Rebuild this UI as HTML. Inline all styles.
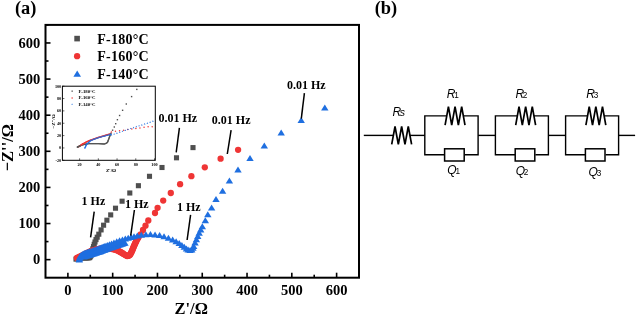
<!DOCTYPE html>
<html><head><meta charset="utf-8"><title>Figure</title>
<style>html,body{margin:0;padding:0;background:#fff;width:637px;height:315px;overflow:hidden}svg{display:block}</style>
</head><body>
<svg width="637" height="315" viewBox="0 0 637 315">
<style>
text{font-family:"Liberation Serif","Times New Roman",serif;font-weight:bold;fill:#000}
.tk{font-size:14.5px}
.axl{font-size:16.5px}
.pl{font-size:18.4px}
.lg{font-size:14px;letter-spacing:0.25px}
.hz{font-size:12px}
.al{stroke:#000;stroke-width:1.5}
.itk{font-size:4.2px}
.itl{font-size:5px}
.ilg{font-size:4.8px}
.cl{font-family:"Liberation Sans",Arial,sans-serif;font-weight:normal;font-style:italic;font-size:12px}
.cs{font-style:normal;font-size:8.2px}
.cs2{font-size:10.5px}
.w{fill:none;stroke:#000;stroke-width:1.4}
.zz{fill:none;stroke:#000;stroke-width:1.7;stroke-linejoin:miter}
.qb{fill:#fff;stroke:#000;stroke-width:1.5}
</style>
<rect width="637" height="315" fill="#fff"/>
<rect x="73.45" y="256.55" width="5.1" height="5.1" fill="#4f4f4f"/><rect x="74.37" y="256.15" width="5.1" height="5.1" fill="#4f4f4f"/><rect x="75.29" y="255.75" width="5.1" height="5.1" fill="#4f4f4f"/><rect x="76.20" y="255.36" width="5.1" height="5.1" fill="#4f4f4f"/><rect x="77.18" y="255.25" width="5.1" height="5.1" fill="#4f4f4f"/><rect x="78.18" y="255.25" width="5.1" height="5.1" fill="#4f4f4f"/><rect x="79.18" y="255.25" width="5.1" height="5.1" fill="#4f4f4f"/><rect x="80.18" y="255.25" width="5.1" height="5.1" fill="#4f4f4f"/><rect x="81.18" y="255.25" width="5.1" height="5.1" fill="#4f4f4f"/><rect x="82.18" y="255.25" width="5.1" height="5.1" fill="#4f4f4f"/><rect x="83.18" y="255.25" width="5.1" height="5.1" fill="#4f4f4f"/><rect x="84.18" y="255.25" width="5.1" height="5.1" fill="#4f4f4f"/><rect x="85.18" y="255.25" width="5.1" height="5.1" fill="#4f4f4f"/><rect x="86.18" y="255.25" width="5.1" height="5.1" fill="#4f4f4f"/><rect x="87.08" y="255.06" width="5.1" height="5.1" fill="#4f4f4f"/><rect x="87.62" y="254.22" width="5.1" height="5.1" fill="#4f4f4f"/><rect x="88.17" y="253.38" width="5.1" height="5.1" fill="#4f4f4f"/><rect x="88.57" y="252.48" width="5.1" height="5.1" fill="#4f4f4f"/><rect x="88.83" y="251.52" width="5.1" height="5.1" fill="#4f4f4f"/><rect x="89.09" y="250.55" width="5.1" height="5.1" fill="#4f4f4f"/><rect x="89.35" y="249.58" width="5.1" height="5.1" fill="#4f4f4f"/><rect x="89.61" y="248.62" width="5.1" height="5.1" fill="#4f4f4f"/><rect x="90.25" y="246.25" width="5.1" height="5.1" fill="#4f4f4f"/><rect x="90.95" y="244.05" width="5.1" height="5.1" fill="#4f4f4f"/><rect x="91.65" y="241.75" width="5.1" height="5.1" fill="#4f4f4f"/><rect x="92.45" y="239.45" width="5.1" height="5.1" fill="#4f4f4f"/><rect x="93.45" y="237.05" width="5.1" height="5.1" fill="#4f4f4f"/><rect x="94.65" y="234.65" width="5.1" height="5.1" fill="#4f4f4f"/><rect x="96.25" y="231.65" width="5.1" height="5.1" fill="#4f4f4f"/><rect x="98.55" y="227.35" width="5.1" height="5.1" fill="#4f4f4f"/><rect x="101.05" y="222.65" width="5.1" height="5.1" fill="#4f4f4f"/><rect x="104.35" y="217.65" width="5.1" height="5.1" fill="#4f4f4f"/><rect x="108.15" y="212.35" width="5.1" height="5.1" fill="#4f4f4f"/><rect x="112.95" y="205.65" width="5.1" height="5.1" fill="#4f4f4f"/><rect x="119.55" y="198.65" width="5.1" height="5.1" fill="#4f4f4f"/><rect x="127.25" y="190.45" width="5.1" height="5.1" fill="#4f4f4f"/><rect x="135.85" y="183.15" width="5.1" height="5.1" fill="#4f4f4f"/><rect x="146.95" y="173.75" width="5.1" height="5.1" fill="#4f4f4f"/><rect x="159.45" y="164.95" width="5.1" height="5.1" fill="#4f4f4f"/><rect x="173.95" y="155.25" width="5.1" height="5.1" fill="#4f4f4f"/><rect x="190.45" y="145.05" width="5.1" height="5.1" fill="#4f4f4f"/><circle cx="76.90" cy="258.00" r="3.15" fill="#ef3535"/><circle cx="77.81" cy="257.59" r="3.15" fill="#ef3535"/><circle cx="78.72" cy="257.18" r="3.15" fill="#ef3535"/><circle cx="79.63" cy="256.77" r="3.15" fill="#ef3535"/><circle cx="80.54" cy="256.33" r="3.15" fill="#ef3535"/><circle cx="81.43" cy="255.89" r="3.15" fill="#ef3535"/><circle cx="82.32" cy="255.44" r="3.15" fill="#ef3535"/><circle cx="83.22" cy="254.99" r="3.15" fill="#ef3535"/><circle cx="84.11" cy="254.54" r="3.15" fill="#ef3535"/><circle cx="85.01" cy="254.10" r="3.15" fill="#ef3535"/><circle cx="85.90" cy="253.65" r="3.15" fill="#ef3535"/><circle cx="86.80" cy="253.20" r="3.15" fill="#ef3535"/><circle cx="87.69" cy="252.75" r="3.15" fill="#ef3535"/><circle cx="88.60" cy="252.33" r="3.15" fill="#ef3535"/><circle cx="89.51" cy="251.92" r="3.15" fill="#ef3535"/><circle cx="90.42" cy="251.51" r="3.15" fill="#ef3535"/><circle cx="91.33" cy="251.10" r="3.15" fill="#ef3535"/><circle cx="92.25" cy="250.72" r="3.15" fill="#ef3535"/><circle cx="93.21" cy="250.41" r="3.15" fill="#ef3535"/><circle cx="94.16" cy="250.10" r="3.15" fill="#ef3535"/><circle cx="95.11" cy="249.79" r="3.15" fill="#ef3535"/><circle cx="96.06" cy="249.49" r="3.15" fill="#ef3535"/><circle cx="97.04" cy="249.29" r="3.15" fill="#ef3535"/><circle cx="98.02" cy="249.10" r="3.15" fill="#ef3535"/><circle cx="99.00" cy="248.90" r="3.15" fill="#ef3535"/><circle cx="99.98" cy="248.70" r="3.15" fill="#ef3535"/><circle cx="100.98" cy="248.62" r="3.15" fill="#ef3535"/><circle cx="101.98" cy="248.54" r="3.15" fill="#ef3535"/><circle cx="102.97" cy="248.46" r="3.15" fill="#ef3535"/><circle cx="103.97" cy="248.38" r="3.15" fill="#ef3535"/><circle cx="104.97" cy="248.30" r="3.15" fill="#ef3535"/><circle cx="105.97" cy="248.34" r="3.15" fill="#ef3535"/><circle cx="106.97" cy="248.38" r="3.15" fill="#ef3535"/><circle cx="107.96" cy="248.42" r="3.15" fill="#ef3535"/><circle cx="108.96" cy="248.46" r="3.15" fill="#ef3535"/><circle cx="109.96" cy="248.50" r="3.15" fill="#ef3535"/><circle cx="110.94" cy="248.70" r="3.15" fill="#ef3535"/><circle cx="111.92" cy="248.92" r="3.15" fill="#ef3535"/><circle cx="112.90" cy="249.13" r="3.15" fill="#ef3535"/><circle cx="113.87" cy="249.34" r="3.15" fill="#ef3535"/><circle cx="114.85" cy="249.55" r="3.15" fill="#ef3535"/><circle cx="115.83" cy="249.76" r="3.15" fill="#ef3535"/><circle cx="116.74" cy="250.17" r="3.15" fill="#ef3535"/><circle cx="117.63" cy="250.62" r="3.15" fill="#ef3535"/><circle cx="118.53" cy="251.06" r="3.15" fill="#ef3535"/><circle cx="119.42" cy="251.51" r="3.15" fill="#ef3535"/><circle cx="120.30" cy="251.98" r="3.15" fill="#ef3535"/><circle cx="121.16" cy="252.50" r="3.15" fill="#ef3535"/><circle cx="122.02" cy="253.01" r="3.15" fill="#ef3535"/><circle cx="122.87" cy="253.52" r="3.15" fill="#ef3535"/><circle cx="123.73" cy="254.04" r="3.15" fill="#ef3535"/><circle cx="124.60" cy="254.54" r="3.15" fill="#ef3535"/><circle cx="125.46" cy="255.04" r="3.15" fill="#ef3535"/><circle cx="126.33" cy="255.53" r="3.15" fill="#ef3535"/><circle cx="127.20" cy="256.03" r="3.15" fill="#ef3535"/><circle cx="128.09" cy="255.92" r="3.15" fill="#ef3535"/><circle cx="128.99" cy="255.48" r="3.15" fill="#ef3535"/><circle cx="129.89" cy="255.05" r="3.15" fill="#ef3535"/><circle cx="130.39" cy="254.21" r="3.15" fill="#ef3535"/><circle cx="130.84" cy="253.32" r="3.15" fill="#ef3535"/><circle cx="131.29" cy="252.42" r="3.15" fill="#ef3535"/><circle cx="131.74" cy="251.53" r="3.15" fill="#ef3535"/><circle cx="132.15" cy="250.62" r="3.15" fill="#ef3535"/><circle cx="132.52" cy="249.69" r="3.15" fill="#ef3535"/><circle cx="132.90" cy="248.76" r="3.15" fill="#ef3535"/><circle cx="133.27" cy="247.83" r="3.15" fill="#ef3535"/><circle cx="133.64" cy="246.91" r="3.15" fill="#ef3535"/><circle cx="134.01" cy="245.98" r="3.15" fill="#ef3535"/><circle cx="134.43" cy="245.07" r="3.15" fill="#ef3535"/><circle cx="134.85" cy="244.16" r="3.15" fill="#ef3535"/><circle cx="135.27" cy="243.25" r="3.15" fill="#ef3535"/><circle cx="135.69" cy="242.35" r="3.15" fill="#ef3535"/><circle cx="136.11" cy="241.44" r="3.15" fill="#ef3535"/><circle cx="136.52" cy="240.53" r="3.15" fill="#ef3535"/><circle cx="136.94" cy="239.62" r="3.15" fill="#ef3535"/><circle cx="137.48" cy="238.78" r="3.15" fill="#ef3535"/><circle cx="138.04" cy="237.95" r="3.15" fill="#ef3535"/><circle cx="138.59" cy="237.12" r="3.15" fill="#ef3535"/><circle cx="140.70" cy="234.30" r="3.15" fill="#ef3535"/><circle cx="143.00" cy="229.90" r="3.15" fill="#ef3535"/><circle cx="145.50" cy="225.70" r="3.15" fill="#ef3535"/><circle cx="148.30" cy="220.50" r="3.15" fill="#ef3535"/><circle cx="155.00" cy="213.00" r="3.15" fill="#ef3535"/><circle cx="157.60" cy="207.80" r="3.15" fill="#ef3535"/><circle cx="163.20" cy="200.60" r="3.15" fill="#ef3535"/><circle cx="170.80" cy="193.00" r="3.15" fill="#ef3535"/><circle cx="180.10" cy="184.20" r="3.15" fill="#ef3535"/><circle cx="191.40" cy="176.20" r="3.15" fill="#ef3535"/><circle cx="204.80" cy="167.30" r="3.15" fill="#ef3535"/><circle cx="220.60" cy="158.70" r="3.15" fill="#ef3535"/><circle cx="238.10" cy="149.80" r="3.15" fill="#ef3535"/><polygon points="84.00,253.40 87.70,259.40 80.30,259.40" fill="#1f6fe0"/><polygon points="85.15,253.06 88.85,259.06 81.45,259.06" fill="#1f6fe0"/><polygon points="86.30,252.71 90.00,258.71 82.60,258.71" fill="#1f6fe0"/><polygon points="87.45,252.37 91.15,258.37 83.75,258.37" fill="#1f6fe0"/><polygon points="88.60,252.02 92.30,258.02 84.90,258.02" fill="#1f6fe0"/><polygon points="89.75,251.68 93.45,257.68 86.05,257.68" fill="#1f6fe0"/><polygon points="90.89,251.31 94.59,257.31 87.19,257.31" fill="#1f6fe0"/><polygon points="92.03,250.95 95.73,256.95 88.33,256.95" fill="#1f6fe0"/><polygon points="93.18,250.58 96.88,256.58 89.48,256.58" fill="#1f6fe0"/><polygon points="94.32,250.22 98.02,256.22 90.62,256.22" fill="#1f6fe0"/><polygon points="95.46,249.85 99.16,255.85 91.76,255.85" fill="#1f6fe0"/><polygon points="96.61,249.49 100.31,255.49 92.91,255.49" fill="#1f6fe0"/><polygon points="97.75,249.12 101.45,255.12 94.05,255.12" fill="#1f6fe0"/><polygon points="98.89,248.75 102.59,254.75 95.19,254.75" fill="#1f6fe0"/><polygon points="100.03,248.39 103.73,254.39 96.33,254.39" fill="#1f6fe0"/><polygon points="101.16,247.96 104.86,253.96 97.46,253.96" fill="#1f6fe0"/><polygon points="102.28,247.53 105.98,253.53 98.58,253.53" fill="#1f6fe0"/><polygon points="103.40,247.11 107.10,253.11 99.70,253.11" fill="#1f6fe0"/><polygon points="104.52,246.68 108.22,252.68 100.82,252.68" fill="#1f6fe0"/><polygon points="105.64,246.26 109.34,252.26 101.94,252.26" fill="#1f6fe0"/><polygon points="106.76,245.83 110.46,251.83 103.06,251.83" fill="#1f6fe0"/><polygon points="107.89,245.40 111.59,251.40 104.19,251.40" fill="#1f6fe0"/><polygon points="109.01,244.98 112.71,250.98 105.31,250.98" fill="#1f6fe0"/><polygon points="110.13,244.56 113.83,250.56 106.43,250.56" fill="#1f6fe0"/><polygon points="111.27,244.19 114.97,250.19 107.57,250.19" fill="#1f6fe0"/><polygon points="112.42,243.82 116.12,249.82 108.72,249.82" fill="#1f6fe0"/><polygon points="113.56,243.45 117.26,249.45 109.86,249.45" fill="#1f6fe0"/><polygon points="114.70,243.09 118.40,249.09 111.00,249.09" fill="#1f6fe0"/><polygon points="115.84,242.72 119.54,248.72 112.14,248.72" fill="#1f6fe0"/><polygon points="116.98,242.35 120.68,248.35 113.28,248.35" fill="#1f6fe0"/><polygon points="118.13,241.98 121.83,247.98 114.43,247.98" fill="#1f6fe0"/><polygon points="119.27,241.61 122.97,247.61 115.57,247.61" fill="#1f6fe0"/><polygon points="120.40,241.22 124.10,247.22 116.70,247.22" fill="#1f6fe0"/><polygon points="121.54,240.83 125.24,246.83 117.84,246.83" fill="#1f6fe0"/><polygon points="122.67,240.44 126.37,246.44 118.97,246.44" fill="#1f6fe0"/><polygon points="123.81,240.05 127.51,246.05 120.11,246.05" fill="#1f6fe0"/><polygon points="124.94,239.66 128.64,245.66 121.24,245.66" fill="#1f6fe0"/><polygon points="79.30,256.60 83.00,262.60 75.60,262.60" fill="#1f6fe0"/><polygon points="79.45,255.61 83.15,261.61 75.75,261.61" fill="#1f6fe0"/><polygon points="79.60,254.62 83.30,260.62 75.90,260.62" fill="#1f6fe0"/><polygon points="80.04,253.73 83.74,259.73 76.34,259.73" fill="#1f6fe0"/><polygon points="80.48,252.83 84.18,258.83 76.78,258.83" fill="#1f6fe0"/><polygon points="81.18,252.14 84.88,258.14 77.48,258.14" fill="#1f6fe0"/><polygon points="81.97,251.52 85.67,257.52 78.27,257.52" fill="#1f6fe0"/><polygon points="82.79,250.96 86.49,256.96 79.09,256.96" fill="#1f6fe0"/><polygon points="83.69,250.53 87.39,256.53 79.99,256.53" fill="#1f6fe0"/><polygon points="84.59,250.10 88.29,256.10 80.89,256.10" fill="#1f6fe0"/><polygon points="85.52,249.73 89.22,255.73 81.82,255.73" fill="#1f6fe0"/><polygon points="86.47,249.43 90.17,255.43 82.77,255.43" fill="#1f6fe0"/><polygon points="87.43,249.12 91.13,255.12 83.73,255.12" fill="#1f6fe0"/><polygon points="88.38,248.82 92.08,254.82 84.68,254.82" fill="#1f6fe0"/><polygon points="89.33,248.51 93.03,254.51 85.63,254.51" fill="#1f6fe0"/><polygon points="90.29,248.21 93.99,254.21 86.59,254.21" fill="#1f6fe0"/><polygon points="91.24,247.93 94.94,253.93 87.54,253.93" fill="#1f6fe0"/><polygon points="92.20,247.64 95.90,253.64 88.50,253.64" fill="#1f6fe0"/><polygon points="93.16,247.35 96.86,253.35 89.46,253.35" fill="#1f6fe0"/><polygon points="94.12,247.06 97.82,253.06 90.42,253.06" fill="#1f6fe0"/><polygon points="95.07,246.77 98.77,252.77 91.37,252.77" fill="#1f6fe0"/><polygon points="96.01,246.43 99.71,252.43 92.31,252.43" fill="#1f6fe0"/><polygon points="96.95,246.10 100.65,252.10 93.25,252.10" fill="#1f6fe0"/><polygon points="97.90,245.76 101.60,251.76 94.20,251.76" fill="#1f6fe0"/><polygon points="98.84,245.42 102.54,251.42 95.14,251.42" fill="#1f6fe0"/><polygon points="99.78,245.08 103.48,251.08 96.08,251.08" fill="#1f6fe0"/><polygon points="100.70,244.70 104.40,250.70 97.00,250.70" fill="#1f6fe0"/><polygon points="101.63,244.32 105.33,250.32 97.93,250.32" fill="#1f6fe0"/><polygon points="102.55,243.93 106.25,249.93 98.85,249.93" fill="#1f6fe0"/><polygon points="103.55,243.51 107.25,249.51 99.85,249.51" fill="#1f6fe0"/><polygon points="104.72,243.02 108.42,249.02 101.02,249.02" fill="#1f6fe0"/><polygon points="106.08,242.51 109.78,248.51 102.38,248.51" fill="#1f6fe0"/><polygon points="107.66,241.94 111.36,247.94 103.96,247.94" fill="#1f6fe0"/><polygon points="109.48,241.29 113.18,247.29 105.78,247.29" fill="#1f6fe0"/><polygon points="111.57,240.44 115.27,246.44 107.87,246.44" fill="#1f6fe0"/><polygon points="113.96,239.44 117.66,245.44 110.26,245.44" fill="#1f6fe0"/><polygon points="116.75,238.37 120.45,244.37 113.05,244.37" fill="#1f6fe0"/><polygon points="119.58,237.35 123.28,243.35 115.88,243.35" fill="#1f6fe0"/><polygon points="122.44,236.47 126.14,242.47 118.74,242.47" fill="#1f6fe0"/><polygon points="125.32,235.62 129.02,241.62 121.62,241.62" fill="#1f6fe0"/><polygon points="128.22,234.86 131.92,240.86 124.52,240.86" fill="#1f6fe0"/><polygon points="131.12,234.11 134.82,240.11 127.42,240.11" fill="#1f6fe0"/><polygon points="134.03,233.35 137.73,239.35 130.33,239.35" fill="#1f6fe0"/><polygon points="137.32,232.50 141.02,238.50 133.62,238.50" fill="#1f6fe0"/><polygon points="141.30,231.70 145.00,237.70 137.60,237.70" fill="#1f6fe0"/><polygon points="145.88,231.33 149.58,237.33 142.18,237.33" fill="#1f6fe0"/><polygon points="150.47,231.05 154.17,237.05 146.77,237.05" fill="#1f6fe0"/><polygon points="155.04,231.55 158.74,237.55 151.34,237.55" fill="#1f6fe0"/><polygon points="159.61,232.06 163.31,238.06 155.91,238.06" fill="#1f6fe0"/><polygon points="164.03,233.31 167.73,239.31 160.33,239.31" fill="#1f6fe0"/><polygon points="168.44,234.63 172.14,240.63 164.74,240.63" fill="#1f6fe0"/><polygon points="172.65,236.43 176.35,242.43 168.95,242.43" fill="#1f6fe0"/><polygon points="176.13,238.28 179.83,244.28 172.43,244.28" fill="#1f6fe0"/><polygon points="179.20,240.12 182.90,246.12 175.50,246.12" fill="#1f6fe0"/><polygon points="181.88,242.01 185.58,248.01 178.18,248.01" fill="#1f6fe0"/><polygon points="184.28,243.83 187.98,249.83 180.58,249.83" fill="#1f6fe0"/><polygon points="186.45,245.56 190.15,251.56 182.75,251.56" fill="#1f6fe0"/><polygon points="188.15,246.58 191.85,252.58 184.45,252.58" fill="#1f6fe0"/><polygon points="190.05,247.05 193.75,253.05 186.35,253.05" fill="#1f6fe0"/><polygon points="191.77,246.38 195.47,252.38 188.07,252.38" fill="#1f6fe0"/><polygon points="192.93,244.81 196.63,250.81 189.23,250.81" fill="#1f6fe0"/><polygon points="193.69,242.96 197.39,248.96 189.99,248.96" fill="#1f6fe0"/><polygon points="195.05,239.62 198.75,245.62 191.35,245.62" fill="#1f6fe0"/><polygon points="196.41,236.29 200.11,242.29 192.71,242.29" fill="#1f6fe0"/><polygon points="197.77,232.96 201.47,238.96 194.07,238.96" fill="#1f6fe0"/><polygon points="199.16,229.64 202.86,235.64 195.46,235.64" fill="#1f6fe0"/><polygon points="200.71,226.39 204.41,232.39 197.01,232.39" fill="#1f6fe0"/><polygon points="202.33,223.18 206.03,229.18 198.63,229.18" fill="#1f6fe0"/><polygon points="205.30,217.20 209.00,223.20 201.60,223.20" fill="#1f6fe0"/><polygon points="207.80,211.30 211.50,217.30 204.10,217.30" fill="#1f6fe0"/><polygon points="211.60,204.50 215.30,210.50 207.90,210.50" fill="#1f6fe0"/><polygon points="216.00,196.10 219.70,202.10 212.30,202.10" fill="#1f6fe0"/><polygon points="222.60,187.70 226.30,193.70 218.90,193.70" fill="#1f6fe0"/><polygon points="229.40,177.60 233.10,183.60 225.70,183.60" fill="#1f6fe0"/><polygon points="238.00,166.50 241.70,172.50 234.30,172.50" fill="#1f6fe0"/><polygon points="250.00,155.00 253.70,161.00 246.30,161.00" fill="#1f6fe0"/><polygon points="264.30,142.50 268.00,148.50 260.60,148.50" fill="#1f6fe0"/><polygon points="281.20,129.60 284.90,135.60 277.50,135.60" fill="#1f6fe0"/><polygon points="301.20,117.10 304.90,123.10 297.50,123.10" fill="#1f6fe0"/><polygon points="324.80,104.60 328.50,110.60 321.10,110.60" fill="#1f6fe0"/>
<rect x="45.5" y="24.9" width="313.5" height="252.79999999999998" fill="none" stroke="#000" stroke-width="2"/><line x1="67.89" y1="277.7" x2="67.89" y2="272.7" stroke="#000" stroke-width="1.6"/><line x1="45.5" y1="259.64" x2="50.5" y2="259.64" stroke="#000" stroke-width="1.6"/><text x="67.89" y="294.9" text-anchor="middle" class="tk">0</text><text x="40.2" y="264.34" text-anchor="end" class="tk">0</text><line x1="90.29" y1="277.7" x2="90.29" y2="274.7" stroke="#000" stroke-width="1.6"/><line x1="45.5" y1="241.59" x2="48.5" y2="241.59" stroke="#000" stroke-width="1.6"/><line x1="112.68" y1="277.7" x2="112.68" y2="272.7" stroke="#000" stroke-width="1.6"/><line x1="45.5" y1="223.53" x2="50.5" y2="223.53" stroke="#000" stroke-width="1.6"/><text x="112.68" y="294.9" text-anchor="middle" class="tk">100</text><text x="40.2" y="228.23" text-anchor="end" class="tk">100</text><line x1="135.07" y1="277.7" x2="135.07" y2="274.7" stroke="#000" stroke-width="1.6"/><line x1="45.5" y1="205.47" x2="48.5" y2="205.47" stroke="#000" stroke-width="1.6"/><line x1="157.46" y1="277.7" x2="157.46" y2="272.7" stroke="#000" stroke-width="1.6"/><line x1="45.5" y1="187.41" x2="50.5" y2="187.41" stroke="#000" stroke-width="1.6"/><text x="157.46" y="294.9" text-anchor="middle" class="tk">200</text><text x="40.2" y="192.11" text-anchor="end" class="tk">200</text><line x1="179.86" y1="277.7" x2="179.86" y2="274.7" stroke="#000" stroke-width="1.6"/><line x1="45.5" y1="169.36" x2="48.5" y2="169.36" stroke="#000" stroke-width="1.6"/><line x1="202.25" y1="277.7" x2="202.25" y2="272.7" stroke="#000" stroke-width="1.6"/><line x1="45.5" y1="151.30" x2="50.5" y2="151.30" stroke="#000" stroke-width="1.6"/><text x="202.25" y="294.9" text-anchor="middle" class="tk">300</text><text x="40.2" y="156.00" text-anchor="end" class="tk">300</text><line x1="224.64" y1="277.7" x2="224.64" y2="274.7" stroke="#000" stroke-width="1.6"/><line x1="45.5" y1="133.24" x2="48.5" y2="133.24" stroke="#000" stroke-width="1.6"/><line x1="247.04" y1="277.7" x2="247.04" y2="272.7" stroke="#000" stroke-width="1.6"/><line x1="45.5" y1="115.19" x2="50.5" y2="115.19" stroke="#000" stroke-width="1.6"/><text x="247.04" y="294.9" text-anchor="middle" class="tk">400</text><text x="40.2" y="119.89" text-anchor="end" class="tk">400</text><line x1="269.43" y1="277.7" x2="269.43" y2="274.7" stroke="#000" stroke-width="1.6"/><line x1="45.5" y1="97.13" x2="48.5" y2="97.13" stroke="#000" stroke-width="1.6"/><line x1="291.82" y1="277.7" x2="291.82" y2="272.7" stroke="#000" stroke-width="1.6"/><line x1="45.5" y1="79.07" x2="50.5" y2="79.07" stroke="#000" stroke-width="1.6"/><text x="291.82" y="294.9" text-anchor="middle" class="tk">500</text><text x="40.2" y="83.77" text-anchor="end" class="tk">500</text><line x1="314.21" y1="277.7" x2="314.21" y2="274.7" stroke="#000" stroke-width="1.6"/><line x1="45.5" y1="61.01" x2="48.5" y2="61.01" stroke="#000" stroke-width="1.6"/><line x1="336.61" y1="277.7" x2="336.61" y2="272.7" stroke="#000" stroke-width="1.6"/><line x1="45.5" y1="42.96" x2="50.5" y2="42.96" stroke="#000" stroke-width="1.6"/><text x="336.61" y="294.9" text-anchor="middle" class="tk">600</text><text x="40.2" y="47.66" text-anchor="end" class="tk">600</text><line x1="359.00" y1="277.7" x2="359.00" y2="274.7" stroke="#000" stroke-width="1.6"/><line x1="45.5" y1="24.90" x2="48.5" y2="24.90" stroke="#000" stroke-width="1.6"/>
<rect x="62.4" y="86.2" width="92.9" height="74.10000000000001" fill="#fff" stroke="#000" stroke-width="1"/><line x1="79.60" y1="160.3" x2="79.60" y2="158.3" stroke="#000" stroke-width="0.6"/><text x="79.60" y="166.2" text-anchor="middle" class="itk">20</text><line x1="98.33" y1="160.3" x2="98.33" y2="158.3" stroke="#000" stroke-width="0.6"/><text x="98.33" y="166.2" text-anchor="middle" class="itk">40</text><line x1="117.05" y1="160.3" x2="117.05" y2="158.3" stroke="#000" stroke-width="0.6"/><text x="117.05" y="166.2" text-anchor="middle" class="itk">60</text><line x1="135.78" y1="160.3" x2="135.78" y2="158.3" stroke="#000" stroke-width="0.6"/><text x="135.78" y="166.2" text-anchor="middle" class="itk">80</text><line x1="154.50" y1="160.3" x2="154.50" y2="158.3" stroke="#000" stroke-width="0.6"/><text x="154.50" y="166.2" text-anchor="middle" class="itk">100</text><line x1="62.4" y1="160.30" x2="64.4" y2="160.30" stroke="#000" stroke-width="0.6"/><text x="61.2" y="161.80" text-anchor="end" class="itk">-20</text><line x1="62.4" y1="147.95" x2="64.4" y2="147.95" stroke="#000" stroke-width="0.6"/><text x="61.2" y="149.45" text-anchor="end" class="itk">0</text><line x1="62.4" y1="135.60" x2="64.4" y2="135.60" stroke="#000" stroke-width="0.6"/><text x="61.2" y="137.10" text-anchor="end" class="itk">20</text><line x1="62.4" y1="123.25" x2="64.4" y2="123.25" stroke="#000" stroke-width="0.6"/><text x="61.2" y="124.75" text-anchor="end" class="itk">40</text><line x1="62.4" y1="110.90" x2="64.4" y2="110.90" stroke="#000" stroke-width="0.6"/><text x="61.2" y="112.40" text-anchor="end" class="itk">60</text><line x1="62.4" y1="98.55" x2="64.4" y2="98.55" stroke="#000" stroke-width="0.6"/><text x="61.2" y="100.05" text-anchor="end" class="itk">80</text><line x1="62.4" y1="86.20" x2="64.4" y2="86.20" stroke="#000" stroke-width="0.6"/><text x="61.2" y="87.70" text-anchor="end" class="itk">100</text><text x="111" y="171.5" text-anchor="middle" class="itl">Z&#8242;/&#937;</text><text transform="translate(54.7,121.4) rotate(-90)" text-anchor="middle" class="itl">&#8722;Z&#8243;/&#937;</text><rect x="71.5" y="90.5" width="1.3" height="1.3" fill="#4f4f4f"/><circle cx="72.1" cy="97.9" r="0.75" fill="#ef3535"/><polygon points="72.1,103.4 72.9,104.8 71.3,104.8" fill="#1f6fe0"/><text x="78.4" y="92.9" class="ilg">F-180&#176;C</text><text x="78.4" y="99.4" class="ilg">F-160&#176;C</text><text x="78.4" y="105.8" class="ilg">F-140&#176;C</text><rect x="76.80" y="146.50" width="1.2" height="1.2" fill="#555"/><rect x="77.25" y="146.29" width="1.2" height="1.2" fill="#555"/><rect x="77.71" y="146.08" width="1.2" height="1.2" fill="#555"/><rect x="78.16" y="145.88" width="1.2" height="1.2" fill="#555"/><rect x="78.62" y="145.67" width="1.2" height="1.2" fill="#555"/><rect x="79.07" y="145.46" width="1.2" height="1.2" fill="#555"/><rect x="79.53" y="145.25" width="1.2" height="1.2" fill="#555"/><rect x="79.98" y="145.05" width="1.2" height="1.2" fill="#555"/><rect x="80.44" y="144.84" width="1.2" height="1.2" fill="#555"/><rect x="80.89" y="144.63" width="1.2" height="1.2" fill="#555"/><rect x="81.35" y="144.42" width="1.2" height="1.2" fill="#555"/><rect x="81.83" y="144.30" width="1.2" height="1.2" fill="#555"/><rect x="82.32" y="144.18" width="1.2" height="1.2" fill="#555"/><rect x="82.80" y="144.07" width="1.2" height="1.2" fill="#555"/><rect x="83.29" y="143.95" width="1.2" height="1.2" fill="#555"/><rect x="83.78" y="143.83" width="1.2" height="1.2" fill="#555"/><rect x="84.26" y="143.72" width="1.2" height="1.2" fill="#555"/><rect x="84.75" y="143.60" width="1.2" height="1.2" fill="#555"/><rect x="85.24" y="143.49" width="1.2" height="1.2" fill="#555"/><rect x="85.72" y="143.38" width="1.2" height="1.2" fill="#555"/><rect x="86.22" y="143.31" width="1.2" height="1.2" fill="#555"/><rect x="86.71" y="143.24" width="1.2" height="1.2" fill="#555"/><rect x="87.21" y="143.17" width="1.2" height="1.2" fill="#555"/><rect x="87.70" y="143.10" width="1.2" height="1.2" fill="#555"/><rect x="88.20" y="143.03" width="1.2" height="1.2" fill="#555"/><rect x="88.70" y="143.00" width="1.2" height="1.2" fill="#555"/><rect x="89.20" y="143.00" width="1.2" height="1.2" fill="#555"/><rect x="89.70" y="143.00" width="1.2" height="1.2" fill="#555"/><rect x="90.20" y="143.00" width="1.2" height="1.2" fill="#555"/><rect x="90.70" y="143.00" width="1.2" height="1.2" fill="#555"/><rect x="91.20" y="143.00" width="1.2" height="1.2" fill="#555"/><rect x="91.70" y="143.00" width="1.2" height="1.2" fill="#555"/><rect x="92.20" y="143.00" width="1.2" height="1.2" fill="#555"/><rect x="92.70" y="143.00" width="1.2" height="1.2" fill="#555"/><rect x="93.20" y="143.00" width="1.2" height="1.2" fill="#555"/><rect x="93.70" y="143.00" width="1.2" height="1.2" fill="#555"/><rect x="94.20" y="143.00" width="1.2" height="1.2" fill="#555"/><rect x="94.70" y="143.00" width="1.2" height="1.2" fill="#555"/><rect x="95.20" y="143.00" width="1.2" height="1.2" fill="#555"/><rect x="95.70" y="143.00" width="1.2" height="1.2" fill="#555"/><rect x="96.20" y="143.00" width="1.2" height="1.2" fill="#555"/><rect x="96.70" y="143.00" width="1.2" height="1.2" fill="#555"/><rect x="97.20" y="143.00" width="1.2" height="1.2" fill="#555"/><rect x="97.70" y="143.00" width="1.2" height="1.2" fill="#555"/><rect x="98.20" y="143.01" width="1.2" height="1.2" fill="#555"/><rect x="98.70" y="143.05" width="1.2" height="1.2" fill="#555"/><rect x="99.19" y="143.08" width="1.2" height="1.2" fill="#555"/><rect x="99.69" y="143.12" width="1.2" height="1.2" fill="#555"/><rect x="100.19" y="143.15" width="1.2" height="1.2" fill="#555"/><rect x="100.69" y="143.19" width="1.2" height="1.2" fill="#555"/><rect x="101.19" y="143.22" width="1.2" height="1.2" fill="#555"/><rect x="101.69" y="143.26" width="1.2" height="1.2" fill="#555"/><rect x="102.19" y="143.29" width="1.2" height="1.2" fill="#555"/><rect x="102.69" y="143.33" width="1.2" height="1.2" fill="#555"/><rect x="103.18" y="143.36" width="1.2" height="1.2" fill="#555"/><rect x="103.68" y="143.40" width="1.2" height="1.2" fill="#555"/><rect x="104.15" y="143.23" width="1.2" height="1.2" fill="#555"/><rect x="104.62" y="143.06" width="1.2" height="1.2" fill="#555"/><rect x="105.09" y="142.89" width="1.2" height="1.2" fill="#555"/><rect x="105.56" y="142.72" width="1.2" height="1.2" fill="#555"/><rect x="106.00" y="142.50" width="1.2" height="1.2" fill="#555"/><rect x="106.35" y="142.15" width="1.2" height="1.2" fill="#555"/><rect x="106.71" y="141.79" width="1.2" height="1.2" fill="#555"/><rect x="107.03" y="141.42" width="1.2" height="1.2" fill="#555"/><rect x="107.20" y="140.95" width="1.2" height="1.2" fill="#555"/><rect x="107.38" y="140.48" width="1.2" height="1.2" fill="#555"/><rect x="107.55" y="140.01" width="1.2" height="1.2" fill="#555"/><rect x="107.72" y="139.54" width="1.2" height="1.2" fill="#555"/><rect x="107.89" y="139.07" width="1.2" height="1.2" fill="#555"/><rect x="108.07" y="138.60" width="1.2" height="1.2" fill="#555"/><rect x="108.24" y="138.13" width="1.2" height="1.2" fill="#555"/><rect x="108.41" y="137.66" width="1.2" height="1.2" fill="#555"/><rect x="108.58" y="137.19" width="1.2" height="1.2" fill="#555"/><rect x="108.75" y="136.72" width="1.2" height="1.2" fill="#555"/><rect x="108.92" y="136.25" width="1.2" height="1.2" fill="#555"/><rect x="109.09" y="135.78" width="1.2" height="1.2" fill="#555"/><rect x="109.25" y="135.31" width="1.2" height="1.2" fill="#555"/><rect x="109.42" y="134.84" width="1.2" height="1.2" fill="#555"/><rect x="109.62" y="134.38" width="1.2" height="1.2" fill="#555"/><rect x="109.81" y="133.92" width="1.2" height="1.2" fill="#555"/><rect x="110.00" y="133.46" width="1.2" height="1.2" fill="#555"/><rect x="110.19" y="132.99" width="1.2" height="1.2" fill="#555"/><rect x="110.39" y="132.53" width="1.2" height="1.2" fill="#555"/><rect x="111.90" y="129.50" width="1.4" height="1.4" fill="#4f4f4f"/><rect x="113.60" y="126.30" width="1.4" height="1.4" fill="#4f4f4f"/><rect x="115.00" y="123.00" width="1.4" height="1.4" fill="#4f4f4f"/><rect x="116.70" y="119.00" width="1.4" height="1.4" fill="#4f4f4f"/><rect x="118.90" y="114.80" width="1.4" height="1.4" fill="#4f4f4f"/><rect x="121.90" y="109.60" width="1.4" height="1.4" fill="#4f4f4f"/><rect x="125.60" y="103.30" width="1.4" height="1.4" fill="#4f4f4f"/><rect x="130.90" y="95.90" width="1.4" height="1.4" fill="#4f4f4f"/><rect x="136.10" y="88.70" width="1.4" height="1.4" fill="#4f4f4f"/><circle cx="78.60" cy="146.70" r="0.75" fill="#ef3535"/><circle cx="79.01" cy="146.41" r="0.75" fill="#ef3535"/><circle cx="79.42" cy="146.12" r="0.75" fill="#ef3535"/><circle cx="79.82" cy="145.83" r="0.75" fill="#ef3535"/><circle cx="80.23" cy="145.54" r="0.75" fill="#ef3535"/><circle cx="80.64" cy="145.25" r="0.75" fill="#ef3535"/><circle cx="81.05" cy="144.96" r="0.75" fill="#ef3535"/><circle cx="81.45" cy="144.67" r="0.75" fill="#ef3535"/><circle cx="81.86" cy="144.38" r="0.75" fill="#ef3535"/><circle cx="82.27" cy="144.09" r="0.75" fill="#ef3535"/><circle cx="82.70" cy="143.85" r="0.75" fill="#ef3535"/><circle cx="83.15" cy="143.63" r="0.75" fill="#ef3535"/><circle cx="83.60" cy="143.40" r="0.75" fill="#ef3535"/><circle cx="84.04" cy="143.18" r="0.75" fill="#ef3535"/><circle cx="84.49" cy="142.95" r="0.75" fill="#ef3535"/><circle cx="84.94" cy="142.73" r="0.75" fill="#ef3535"/><circle cx="85.39" cy="142.51" r="0.75" fill="#ef3535"/><circle cx="85.83" cy="142.28" r="0.75" fill="#ef3535"/><circle cx="86.28" cy="142.06" r="0.75" fill="#ef3535"/><circle cx="86.73" cy="141.84" r="0.75" fill="#ef3535"/><circle cx="87.17" cy="141.61" r="0.75" fill="#ef3535"/><circle cx="87.62" cy="141.39" r="0.75" fill="#ef3535"/><circle cx="88.07" cy="141.17" r="0.75" fill="#ef3535"/><circle cx="88.52" cy="140.94" r="0.75" fill="#ef3535"/><circle cx="88.96" cy="140.72" r="0.75" fill="#ef3535"/><circle cx="89.43" cy="140.55" r="0.75" fill="#ef3535"/><circle cx="89.91" cy="140.39" r="0.75" fill="#ef3535"/><rect x="76.80" y="146.50" width="1.2" height="1.2" fill="#555"/><rect x="77.25" y="146.29" width="1.2" height="1.2" fill="#555"/><rect x="77.71" y="146.08" width="1.2" height="1.2" fill="#555"/><rect x="78.16" y="145.88" width="1.2" height="1.2" fill="#555"/><rect x="78.62" y="145.67" width="1.2" height="1.2" fill="#555"/><rect x="79.07" y="145.46" width="1.2" height="1.2" fill="#555"/><rect x="79.53" y="145.25" width="1.2" height="1.2" fill="#555"/><polygon points="84.80,147.15 85.65,148.60 83.95,148.60" fill="#1f6fe0"/><polygon points="85.02,146.70 85.87,148.15 84.17,148.15" fill="#1f6fe0"/><polygon points="85.24,146.25 86.09,147.70 84.39,147.70" fill="#1f6fe0"/><polygon points="85.46,145.80 86.31,147.25 84.61,147.25" fill="#1f6fe0"/><polygon points="85.68,145.35 86.53,146.80 84.83,146.80" fill="#1f6fe0"/><polygon points="85.89,144.90 86.74,146.35 85.04,146.35" fill="#1f6fe0"/><polygon points="86.11,144.45 86.96,145.90 85.26,145.90" fill="#1f6fe0"/><polygon points="86.33,144.00 87.18,145.45 85.48,145.45" fill="#1f6fe0"/><polygon points="86.55,143.55 87.40,145.00 85.70,145.00" fill="#1f6fe0"/><polygon points="86.82,143.14 87.67,144.59 85.97,144.59" fill="#1f6fe0"/><polygon points="87.20,142.81 88.05,144.26 86.35,144.26" fill="#1f6fe0"/><polygon points="87.57,142.48 88.42,143.93 86.72,143.93" fill="#1f6fe0"/><polygon points="87.95,142.15 88.80,143.60 87.10,143.60" fill="#1f6fe0"/><polygon points="88.32,141.82 89.17,143.27 87.47,143.27" fill="#1f6fe0"/><polygon points="88.69,141.49 89.54,142.94 87.84,142.94" fill="#1f6fe0"/><polygon points="89.07,141.16 89.92,142.61 88.22,142.61" fill="#1f6fe0"/><polygon points="89.44,140.83 90.29,142.28 88.59,142.28" fill="#1f6fe0"/><polygon points="89.82,140.49 90.67,141.94 88.97,141.94" fill="#1f6fe0"/><circle cx="90.38" cy="140.23" r="0.75" fill="#ef3535"/><polygon points="90.19,140.16 91.04,141.61 89.34,141.61" fill="#1f6fe0"/><polygon points="90.57,139.83 91.42,141.28 89.72,141.28" fill="#1f6fe0"/><circle cx="90.85" cy="140.06" r="0.75" fill="#ef3535"/><circle cx="91.33" cy="139.90" r="0.75" fill="#ef3535"/><polygon points="90.94,139.50 91.79,140.95 90.09,140.95" fill="#1f6fe0"/><polygon points="91.40,139.30 92.25,140.75 90.55,140.75" fill="#1f6fe0"/><circle cx="91.80" cy="139.74" r="0.75" fill="#ef3535"/><circle cx="92.27" cy="139.58" r="0.75" fill="#ef3535"/><polygon points="91.87,139.13 92.72,140.58 91.02,140.58" fill="#1f6fe0"/><polygon points="92.34,138.96 93.19,140.41 91.49,140.41" fill="#1f6fe0"/><circle cx="92.74" cy="139.41" r="0.75" fill="#ef3535"/><circle cx="93.22" cy="139.25" r="0.75" fill="#ef3535"/><polygon points="92.80,138.79 93.65,140.24 91.95,140.24" fill="#1f6fe0"/><polygon points="93.27,138.61 94.12,140.06 92.42,140.06" fill="#1f6fe0"/><circle cx="93.69" cy="139.09" r="0.75" fill="#ef3535"/><circle cx="94.16" cy="138.93" r="0.75" fill="#ef3535"/><polygon points="93.74,138.44 94.59,139.89 92.89,139.89" fill="#1f6fe0"/><polygon points="94.21,138.27 95.06,139.72 93.36,139.72" fill="#1f6fe0"/><circle cx="94.64" cy="138.76" r="0.75" fill="#ef3535"/><circle cx="95.11" cy="138.60" r="0.75" fill="#ef3535"/><polygon points="94.68,138.09 95.53,139.54 93.83,139.54" fill="#1f6fe0"/><polygon points="95.15,137.92 96.00,139.37 94.30,139.37" fill="#1f6fe0"/><circle cx="95.58" cy="138.44" r="0.75" fill="#ef3535"/><circle cx="96.05" cy="138.28" r="0.75" fill="#ef3535"/><polygon points="95.62,137.75 96.47,139.20 94.77,139.20" fill="#1f6fe0"/><polygon points="96.09,137.58 96.94,139.03 95.24,139.03" fill="#1f6fe0"/><circle cx="96.53" cy="138.11" r="0.75" fill="#ef3535"/><circle cx="97.00" cy="137.95" r="0.75" fill="#ef3535"/><polygon points="96.56,137.40 97.41,138.85 95.71,138.85" fill="#1f6fe0"/><polygon points="97.03,137.23 97.88,138.68 96.18,138.68" fill="#1f6fe0"/><circle cx="97.47" cy="137.79" r="0.75" fill="#ef3535"/><circle cx="97.95" cy="137.62" r="0.75" fill="#ef3535"/><polygon points="97.50,137.06 98.35,138.51 96.65,138.51" fill="#1f6fe0"/><polygon points="97.97,136.88 98.82,138.33 97.12,138.33" fill="#1f6fe0"/><circle cx="98.42" cy="137.46" r="0.75" fill="#ef3535"/><circle cx="98.90" cy="137.31" r="0.75" fill="#ef3535"/><polygon points="98.43,136.71 99.28,138.16 97.58,138.16" fill="#1f6fe0"/><polygon points="98.91,136.56 99.76,138.01 98.06,138.01" fill="#1f6fe0"/><circle cx="99.37" cy="137.17" r="0.75" fill="#ef3535"/><circle cx="99.85" cy="137.03" r="0.75" fill="#ef3535"/><polygon points="99.39,136.43 100.24,137.88 98.54,137.88" fill="#1f6fe0"/><polygon points="99.88,136.30 100.73,137.75 99.03,137.75" fill="#1f6fe0"/><circle cx="100.33" cy="136.88" r="0.75" fill="#ef3535"/><circle cx="100.81" cy="136.74" r="0.75" fill="#ef3535"/><polygon points="100.36,136.17 101.21,137.62 99.51,137.62" fill="#1f6fe0"/><polygon points="100.84,136.04 101.69,137.49 99.99,137.49" fill="#1f6fe0"/><circle cx="101.29" cy="136.60" r="0.75" fill="#ef3535"/><circle cx="101.77" cy="136.45" r="0.75" fill="#ef3535"/><polygon points="101.32,135.90 102.17,137.35 100.47,137.35" fill="#1f6fe0"/><polygon points="101.81,135.77 102.66,137.22 100.96,137.22" fill="#1f6fe0"/><circle cx="102.25" cy="136.31" r="0.75" fill="#ef3535"/><circle cx="102.73" cy="136.17" r="0.75" fill="#ef3535"/><polygon points="102.29,135.64 103.14,137.09 101.44,137.09" fill="#1f6fe0"/><polygon points="102.77,135.51 103.62,136.96 101.92,136.96" fill="#1f6fe0"/><circle cx="103.21" cy="136.03" r="0.75" fill="#ef3535"/><circle cx="103.69" cy="135.88" r="0.75" fill="#ef3535"/><polygon points="103.25,135.37 104.10,136.82 102.40,136.82" fill="#1f6fe0"/><polygon points="103.73,135.24 104.58,136.69 102.88,136.69" fill="#1f6fe0"/><circle cx="104.17" cy="135.74" r="0.75" fill="#ef3535"/><circle cx="104.64" cy="135.60" r="0.75" fill="#ef3535"/><polygon points="104.22,135.11 105.07,136.56 103.37,136.56" fill="#1f6fe0"/><polygon points="104.70,134.98 105.55,136.43 103.85,136.43" fill="#1f6fe0"/><circle cx="105.12" cy="135.45" r="0.75" fill="#ef3535"/><circle cx="105.60" cy="135.31" r="0.75" fill="#ef3535"/><polygon points="105.18,134.85 106.03,136.30 104.33,136.30" fill="#1f6fe0"/><polygon points="105.66,134.71 106.51,136.16 104.81,136.16" fill="#1f6fe0"/><circle cx="106.08" cy="135.17" r="0.75" fill="#ef3535"/><circle cx="106.56" cy="135.03" r="0.75" fill="#ef3535"/><polygon points="106.15,134.58 107.00,136.03 105.30,136.03" fill="#1f6fe0"/><polygon points="106.63,134.45 107.48,135.90 105.78,135.90" fill="#1f6fe0"/><circle cx="107.04" cy="134.88" r="0.75" fill="#ef3535"/><circle cx="107.52" cy="134.74" r="0.75" fill="#ef3535"/><polygon points="107.11,134.32 107.96,135.77 106.26,135.77" fill="#1f6fe0"/><polygon points="107.59,134.18 108.44,135.63 106.74,135.63" fill="#1f6fe0"/><circle cx="108.00" cy="134.60" r="0.75" fill="#ef3535"/><circle cx="108.48" cy="134.45" r="0.75" fill="#ef3535"/><polygon points="108.07,134.05 108.92,135.50 107.22,135.50" fill="#1f6fe0"/><polygon points="108.56,133.92 109.41,135.37 107.71,135.37" fill="#1f6fe0"/><circle cx="108.96" cy="134.31" r="0.75" fill="#ef3535"/><circle cx="109.44" cy="134.17" r="0.75" fill="#ef3535"/><polygon points="109.04,133.79 109.89,135.24 108.19,135.24" fill="#1f6fe0"/><polygon points="109.52,133.66 110.37,135.11 108.67,135.11" fill="#1f6fe0"/><circle cx="109.92" cy="134.03" r="0.75" fill="#ef3535"/><polygon points="110.00,133.52 110.85,134.97 109.15,134.97" fill="#1f6fe0"/><polygon points="110.49,133.39 111.34,134.84 109.64,134.84" fill="#1f6fe0"/><polygon points="110.97,133.26 111.82,134.71 110.12,134.71" fill="#1f6fe0"/><circle cx="111.40" cy="131.90" r="0.75" fill="#ef3535"/><circle cx="115.48" cy="131.33" r="0.75" fill="#ef3535"/><circle cx="119.56" cy="130.76" r="0.75" fill="#ef3535"/><circle cx="123.64" cy="130.19" r="0.75" fill="#ef3535"/><circle cx="127.72" cy="129.62" r="0.75" fill="#ef3535"/><circle cx="131.80" cy="129.05" r="0.75" fill="#ef3535"/><circle cx="135.88" cy="128.48" r="0.75" fill="#ef3535"/><circle cx="139.96" cy="127.91" r="0.75" fill="#ef3535"/><circle cx="144.04" cy="127.34" r="0.75" fill="#ef3535"/><circle cx="148.12" cy="126.77" r="0.75" fill="#ef3535"/><circle cx="152.20" cy="126.80" r="0.75" fill="#ef3535"/><polygon points="111.40,134.05 112.25,135.50 110.55,135.50" fill="#1f6fe0"/><polygon points="114.17,133.14 115.02,134.59 113.32,134.59" fill="#1f6fe0"/><polygon points="116.93,132.22 117.78,133.67 116.08,133.67" fill="#1f6fe0"/><polygon points="119.70,131.31 120.55,132.76 118.85,132.76" fill="#1f6fe0"/><polygon points="122.47,130.40 123.32,131.85 121.62,131.85" fill="#1f6fe0"/><polygon points="125.23,129.48 126.08,130.93 124.38,130.93" fill="#1f6fe0"/><polygon points="128.00,128.57 128.85,130.02 127.15,130.02" fill="#1f6fe0"/><polygon points="130.77,127.66 131.62,129.11 129.92,129.11" fill="#1f6fe0"/><polygon points="133.53,126.74 134.38,128.19 132.68,128.19" fill="#1f6fe0"/><polygon points="136.30,125.83 137.15,127.28 135.45,127.28" fill="#1f6fe0"/><polygon points="139.07,124.92 139.92,126.37 138.22,126.37" fill="#1f6fe0"/><polygon points="141.83,124.00 142.68,125.45 140.98,125.45" fill="#1f6fe0"/><polygon points="144.60,123.09 145.45,124.54 143.75,124.54" fill="#1f6fe0"/><polygon points="147.37,122.18 148.22,123.63 146.52,123.63" fill="#1f6fe0"/><polygon points="150.13,121.26 150.98,122.71 149.28,122.71" fill="#1f6fe0"/><polygon points="152.90,120.35 153.75,121.80 152.05,121.80" fill="#1f6fe0"/>

<rect x="74.30" y="35.80" width="5.6" height="5.6" fill="#4f4f4f"/>
<text x="97.3" y="43.5" class="lg">F-180&#176;C</text>
<circle cx="77.10" cy="56.20" r="3.15" fill="#ef3535"/>
<text x="97.3" y="61.2" class="lg">F-160&#176;C</text>
<polygon points="77.20,70.45 81.00,76.75 73.40,76.75" fill="#1f6fe0"/>
<text x="97.3" y="78.9" class="lg">F-140&#176;C</text>


<text x="81.6" y="205" class="hz">1 Hz</text>
<line x1="94.2" y1="211.7" x2="90.6" y2="237.4" class="al"/>
<text x="125.0" y="208.2" class="hz">1 Hz</text>
<line x1="134.4" y1="210" x2="130.7" y2="235.6" class="al"/>
<text x="176.9" y="210.8" class="hz">1 Hz</text>
<line x1="190.6" y1="214.9" x2="187.1" y2="240" class="al"/>
<text x="158.5" y="122.2" class="hz">0.01 Hz</text>
<line x1="179.4" y1="127.9" x2="176.2" y2="152.4" class="al"/>
<text x="211.8" y="123.7" class="hz">0.01 Hz</text>
<line x1="231.1" y1="130.2" x2="227.3" y2="154" class="al"/>
<text x="287" y="89.4" class="hz">0.01 Hz</text>
<line x1="304.4" y1="93.2" x2="301.3" y2="118.6" class="al"/>


<text x="191.2" y="313.6" text-anchor="middle" class="axl">Z'/&#937;</text>
<text transform="translate(12.9,147.6) rotate(-90) scale(1,1.07)" text-anchor="middle" class="axl">&#8722;Z''/&#937;</text>
<text x="15" y="13.5" class="pl">(a)</text>
<text x="374.7" y="13.6" class="pl">(b)</text>

<line x1="363.8" y1="135.4" x2="393.5" y2="135.4" class="w"/><polyline points="391.70,144.30 395.02,126.50 398.33,144.30 401.65,126.50 404.97,144.30 408.28,126.50 411.60,144.30" class="zz"/><line x1="409.8" y1="135.4" x2="424.8" y2="135.4" class="w"/><polyline points="446.80,115.9 424.8,115.9 424.8,154.8 444.70,154.8" class="w"/><polyline points="463.30,115.9 478.1,115.9 478.1,154.8 464.80,154.8" class="w"/><polyline points="445.10,125.10 448.42,106.70 451.73,125.10 455.05,106.70 458.37,125.10 461.68,106.70 465.00,125.10" class="zz"/><rect x="444.60" y="148.80" width="19.6" height="12.2" class="qb"/><line x1="478.1" y1="135.4" x2="495.4" y2="135.4" class="w"/><polyline points="517.40,115.9 495.4,115.9 495.4,154.8 515.30,154.8" class="w"/><polyline points="533.90,115.9 548.4,115.9 548.4,154.8 535.40,154.8" class="w"/><polyline points="515.70,125.10 519.02,106.70 522.33,125.10 525.65,106.70 528.97,125.10 532.28,106.70 535.60,125.10" class="zz"/><rect x="515.20" y="148.80" width="19.6" height="12.2" class="qb"/><line x1="548.4" y1="135.4" x2="565.6" y2="135.4" class="w"/><polyline points="587.60,115.9 565.6,115.9 565.6,154.8 585.50,154.8" class="w"/><polyline points="604.10,115.9 618.6,115.9 618.6,154.8 605.60,154.8" class="w"/><polyline points="585.90,125.10 589.22,106.70 592.53,125.10 595.85,106.70 599.17,125.10 602.48,106.70 605.80,125.10" class="zz"/><rect x="585.40" y="148.80" width="19.6" height="12.2" class="qb"/><line x1="618.6" y1="135.4" x2="635.1" y2="135.4" class="w"/><text x="392.4" y="115.9" class="cl">R<tspan class="cs2" dx="-1.3">s</tspan></text><text x="446.7" y="98.4" class="cl">R<tspan class="cs" dx="-1.2">1</tspan></text><text x="447.3" y="173.5" class="cl">Q<tspan class="cs" dx="-1.2">1</tspan></text><text x="515.4" y="97.7" class="cl">R<tspan class="cs" dx="-1.2">2</tspan></text><text x="515.7" y="174.9" class="cl">Q<tspan class="cs" dx="-1.2">2</tspan></text><text x="586.2" y="98.4" class="cl">R<tspan class="cs" dx="-1.2">3</tspan></text><text x="588.6" y="175.6" class="cl">Q<tspan class="cs" dx="-1.2">3</tspan></text>
</svg>
</body></html>
